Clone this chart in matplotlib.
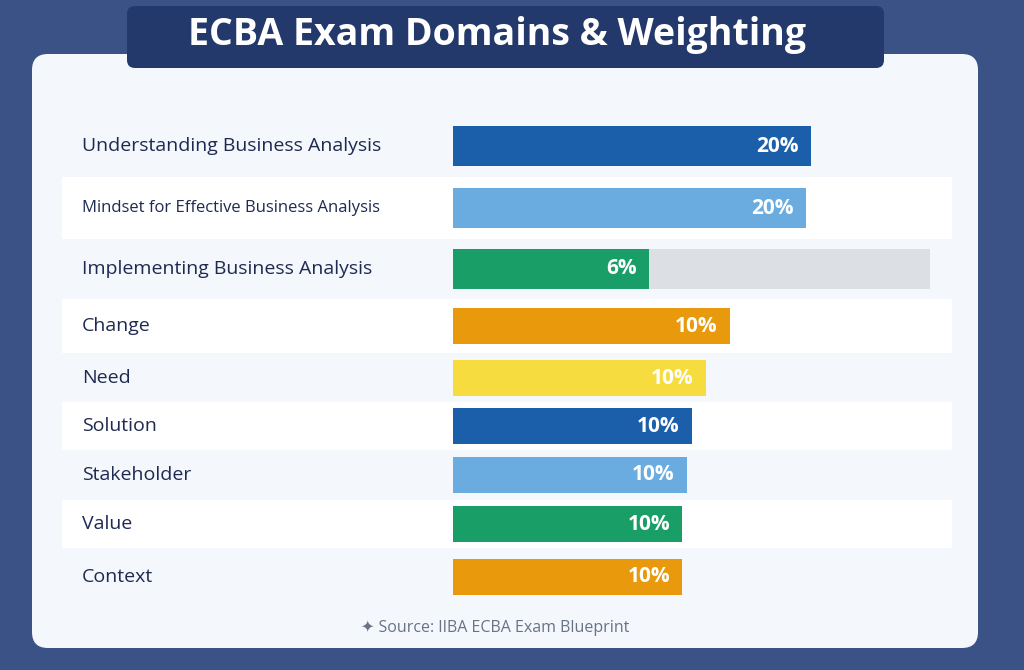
import matplotlib.pyplot as plt
from matplotlib.patches import FancyBboxPatch, Rectangle

domains = ["Understanding Business Analysis", "Mindset for Effective Business Analysis",
           "Implementing Business Analysis", "Change", "Need", "Solution",
           "Stakeholder", "Value", "Context"]
weights = [20, 20, 6, 10, 10, 10, 10, 10, 10]
# bar lengths as drawn in the picture (percent of the track)
drawn_len = [75, 74, 41, 58, 53, 50, 49, 48, 48]
colors = ["#1b5fab", "#6aabe0", "#1a9e68", "#e89a0c", "#f6dc3e",
          "#1b5fab", "#6aabe0", "#1a9e68", "#e89a0c"]

plt.rcParams['font.family'] = ['Open Sans', 'DejaVu Sans']
fig = plt.figure(figsize=(10.24, 6.7), dpi=100)
fig.patch.set_facecolor("#3b5286")
ax = fig.add_axes([0, 0, 1, 1])
ax.set_xlim(0, 1024)
ax.set_ylim(670, 0)
ax.axis("off")

# card
ax.add_patch(FancyBboxPatch((32, 54), 946, 594, boxstyle="round,pad=0,rounding_size=16",
                            fc="#f4f7fc", ec="none"))
# title
ax.add_patch(FancyBboxPatch((127, 6), 757, 62, boxstyle="round,pad=0,rounding_size=8",
                            fc="#23386b", ec="none"))
ax.text(497, 35, "ECBA Exam Domains & Weighting", color="white", fontsize=27,
        fontweight="bold", ha="center", va="center")

row_y = [146, 208, 269, 326, 378, 426, 475, 524, 577]
row_h = [54, 62, 56, 54, 48, 48, 48, 48, 54]
x0, track = 453, 477
for i, (name, w, ln, c, y) in enumerate(zip(domains, weights, drawn_len, colors, row_y)):
    if i % 2 == 1:
        ax.add_patch(Rectangle((62, y - row_h[i] / 2), 890, row_h[i], fc="white", ec="none"))
    if i == 2:
        ax.barh(y, track, left=x0, height=40, color="#dcdfe4")
    h = 40 if i < 3 else 36
    ax.barh(y, ln * track / 100, left=x0, height=h, color=c)
    ax.text(82, y, name, fontsize=14 if i != 1 else 12, color="#1e2a50",
            va="center", ha="left", fontweight="medium")
    ax.text(x0 + ln * track / 100 - 12, y, f"{w}%", fontsize=15, fontweight="bold",
            color="white", va="center", ha="right")

ax.text(495, 628, "✦ Source: IIBA ECBA Exam Blueprint", fontsize=11.5, color="#6a7285",
        ha="center", va="center")

fig.savefig("out.png", dpi=100, facecolor=fig.get_facecolor())
